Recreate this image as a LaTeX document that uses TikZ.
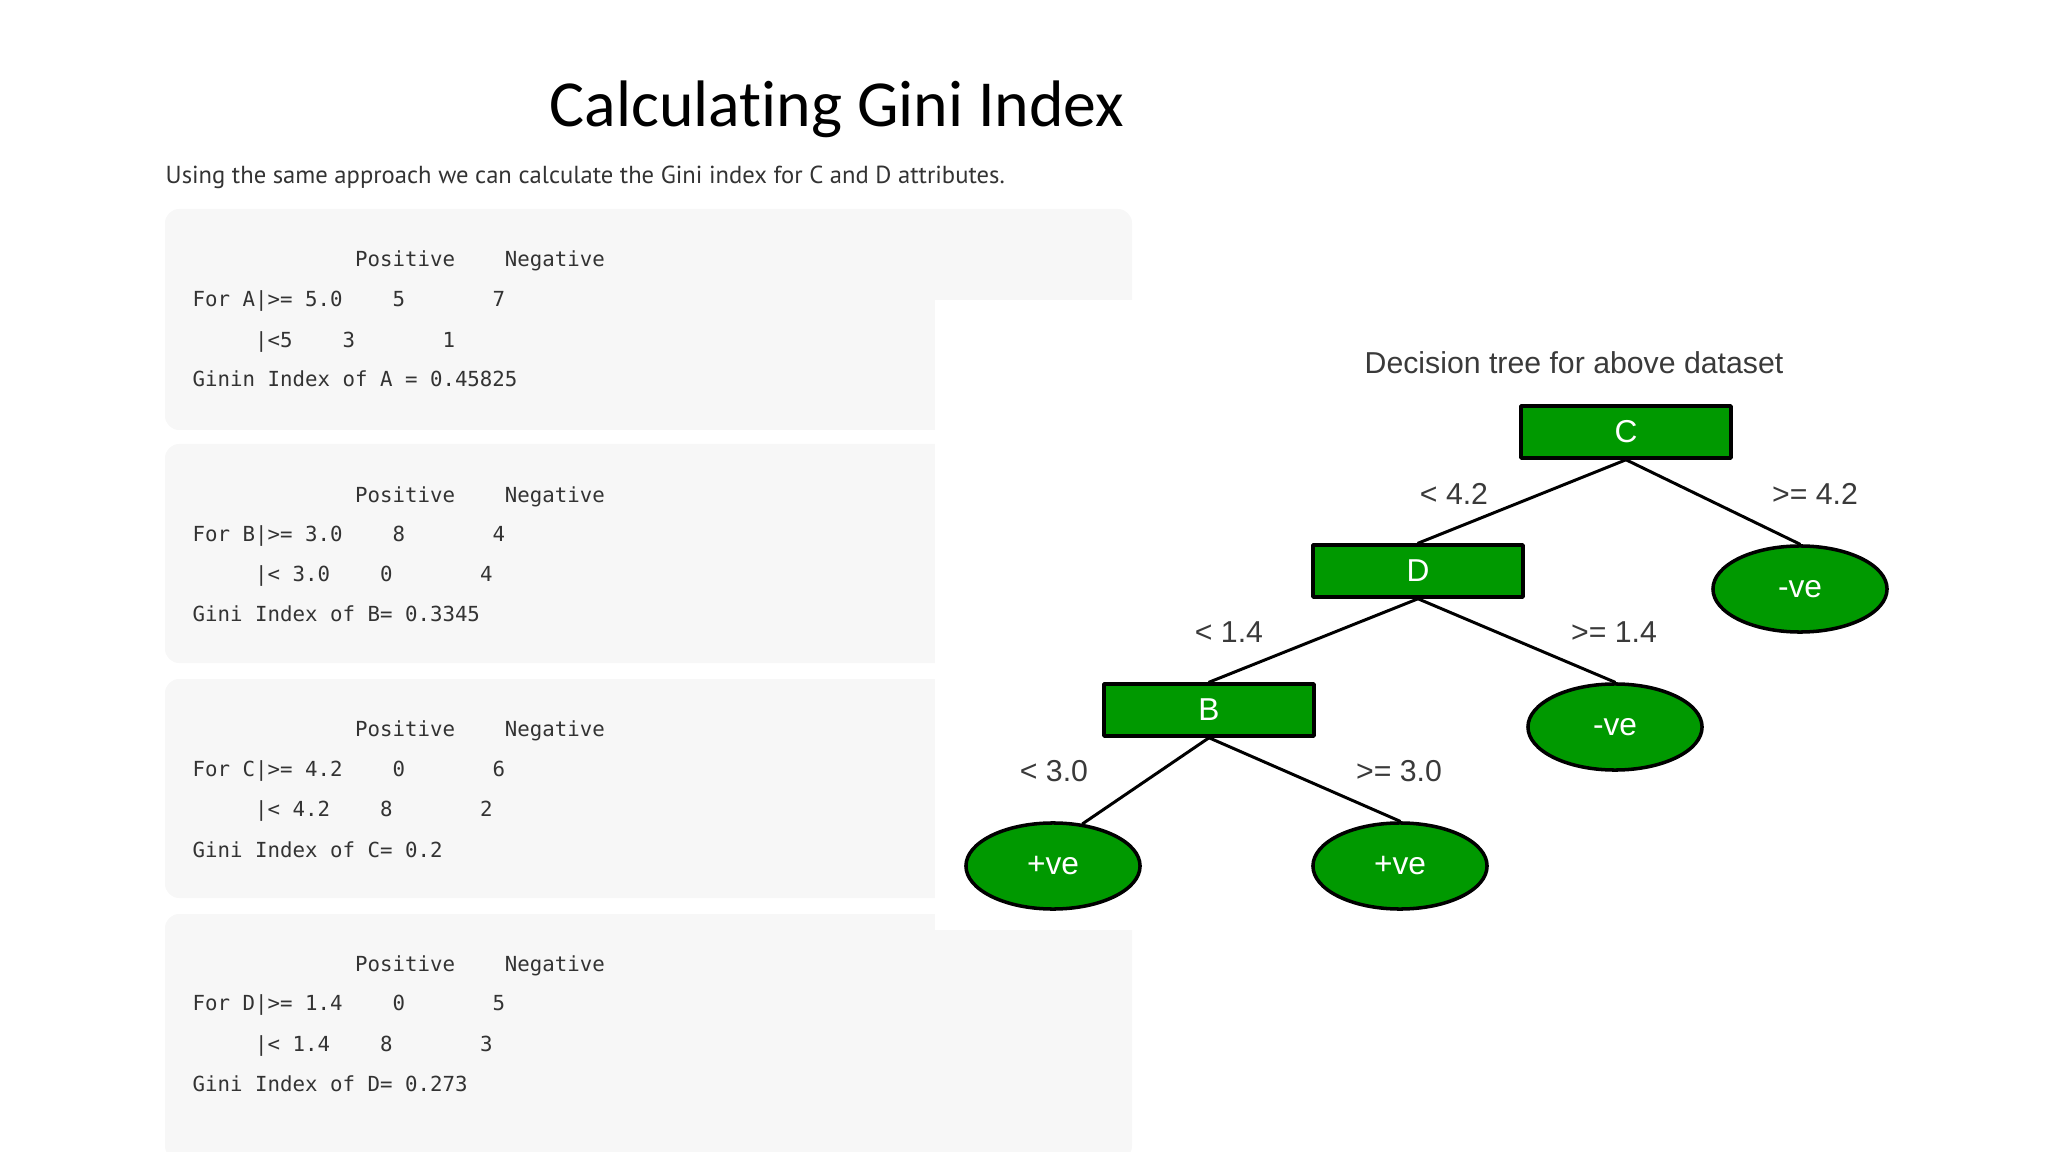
\documentclass[tikz,border=0pt]{standalone}
\usepackage{fontspec}
\setmainfont{Liberation Sans}
\newfontfamily\titlefont[Ligatures=NoCommon]{Carlito}
\newfontfamily\subfont{PT Sans}
\newfontfamily\codefont{DejaVu Sans Mono}
\usetikzlibrary{shapes.geometric}
\definecolor{panelgray}{HTML}{F7F7F7}
\definecolor{treegreen}{HTML}{009900}
\definecolor{codegray}{HTML}{333333}
\definecolor{labelgray}{HTML}{3A3A3A}

\begin{document}
\begin{tikzpicture}[line cap=round,line join=round,x=0.01cm,y=-0.01cm,
  panel/.style={fill=panelgray,rounded corners=4pt},
  coderow/.style={anchor=base west,inner sep=0pt,text=codegray,font=\codefont\fontsize{5.9}{7}\selectfont},
  attr/.style={rectangle,draw=black,line width=1pt,fill=treegreen,minimum width=2.1cm,minimum height=0.52cm,inner sep=0pt,text=white,font=\fontsize{9}{10}\selectfont},
  leaf/.style={ellipse,draw=black,line width=1pt,fill=treegreen,minimum width=1.74cm,minimum height=0.86cm,inner sep=0pt,text=white,font=\fontsize{9}{10}\selectfont},
  cond/.style={inner sep=0pt,text=labelgray,font=\fontsize{8.6}{10}\selectfont},
  branch/.style={line width=0.85pt}]
\useasboundingbox (0,0) rectangle (2048,1152);
\node[anchor=base,inner sep=0pt] (title) at (837,127) {\titlefont\fontsize{18.7}{22}\selectfont Calculating Gini Index};
\node[anchor=base west,inner sep=0pt,text=codegray] (intro) at (165,184) {\subfont\fontsize{7.0}{9}\selectfont Using the same approach we can calculate the Gini index for C and D attributes.};
\fill[panel] (165,209) rectangle (1132,430);
\fill[panel] (165,444) rectangle (1132,663);
\fill[panel] (165,679) rectangle (1132,898);
\fill[panel] (165,914) rectangle (1132,1160);
\fill[white] (935,300) rectangle (1140,930);
\node[coderow] (ahead) at (192,267) {~~~~~~~~~~~~~Positive~~~~Negative};
\node[coderow] (aup) at (192,307) {For A|>= 5.0~~~~5~~~~~~~7};
\node[coderow] (alow) at (192,348) {~~~~~|<5~~~~3~~~~~~~1};
\node[coderow] (agini) at (192,387) {Ginin Index of A = 0.45825};
\node[coderow] (bhead) at (192,502) {~~~~~~~~~~~~~Positive~~~~Negative};
\node[coderow] (bup) at (192,542) {For B|>= 3.0~~~~8~~~~~~~4};
\node[coderow] (blow) at (192,582) {~~~~~|< 3.0~~~~0~~~~~~~4};
\node[coderow] (bgini) at (192,622) {Gini Index of B= 0.3345};
\node[coderow] (chead) at (192,736) {~~~~~~~~~~~~~Positive~~~~Negative};
\node[coderow] (cup) at (192,776) {For C|>= 4.2~~~~0~~~~~~~6};
\node[coderow] (clow) at (192,816) {~~~~~|< 4.2~~~~8~~~~~~~2};
\node[coderow] (cgini) at (192,857) {Gini Index of C= 0.2};
\node[coderow] (dhead) at (192,971) {~~~~~~~~~~~~~Positive~~~~Negative};
\node[coderow] (dup) at (192,1010) {For D|>= 1.4~~~~0~~~~~~~5};
\node[coderow] (dlow) at (192,1051) {~~~~~|< 1.4~~~~8~~~~~~~3};
\node[coderow] (dgini) at (192,1091) {Gini Index of D= 0.273};
\node[cond] (caption) at (1574,363) {Decision tree for above dataset};
\node[attr] (C) at (1626,432) {C};
\node[attr] (D) at (1418,571) {D};
\node[attr] (B) at (1209,710) {B};
\node[leaf] (negC) at (1800,589) {-ve};
\node[leaf] (negD) at (1615,727) {-ve};
\node[leaf] (posL) at (1053,866) {+ve};
\node[leaf] (posR) at (1400,866) {+ve};
\draw[branch] (C.south) -- (D.north);
\draw[branch] (C.south) -- (negC.north);
\draw[branch] (D.south) -- (B.north);
\draw[branch] (D.south) -- (negD.north);
\draw[branch] (B.south) -- (posL.55);
\draw[branch] (B.south) -- (posR.north);
\node[cond] (lc) at (1454,494) {< 4.2};
\node[cond] (rc) at (1815,494) {>= 4.2};
\node[cond] (ld) at (1229,632) {< 1.4};
\node[cond] (rd) at (1614,632) {>= 1.4};
\node[cond] (lb) at (1054,771) {< 3.0};
\node[cond] (rb) at (1399,771) {>= 3.0};
\end{tikzpicture}
\end{document}
